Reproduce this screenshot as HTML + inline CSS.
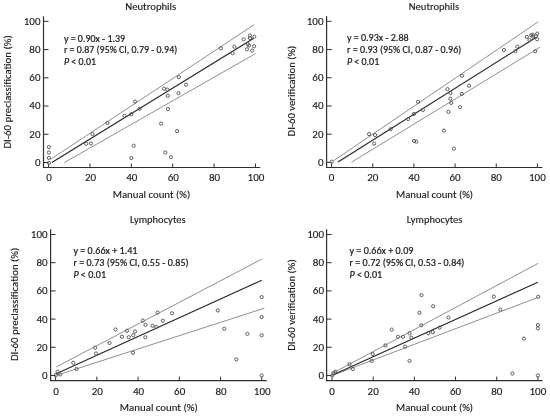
<!DOCTYPE html><html><head><meta charset="utf-8"><title>Scatter plots</title><style>html,body{margin:0;padding:0;background:#fff;width:550px;height:416px;overflow:hidden}svg{display:block;filter:blur(0.3px)}text{font-family:Carlito, "Liberation Sans", sans-serif;fill:#161616;stroke:#161616;stroke-width:0.12px}.eq{stroke-width:0.2px}</style></head><body>
<svg width="550" height="416" viewBox="0 0 550 416">
<g><path d="M43.5 16.3V167.5H260.2" fill="none" stroke="#303030" stroke-width="1.2"/><path d="M43.5 162.5h5M48.6 167.5v-4M43.5 134.27h5M89.97 167.5v-4M43.5 106.04h5M131.34 167.5v-4M43.5 77.81h5M172.71 167.5v-4M43.5 49.58h5M214.08 167.5v-4M43.5 21.35h5M255.45 167.5v-4" stroke="#303030" stroke-width="1"/><text x="40.5" y="165.9" font-size="11" text-anchor="end" textLength="5.58" lengthAdjust="spacingAndGlyphs">0</text><text x="49.1" y="181" font-size="11" text-anchor="middle" textLength="5.58" lengthAdjust="spacingAndGlyphs">0</text><text x="40.5" y="137.67" font-size="11" text-anchor="end" textLength="11.16" lengthAdjust="spacingAndGlyphs">20</text><text x="90.47" y="181" font-size="11" text-anchor="middle" textLength="11.16" lengthAdjust="spacingAndGlyphs">20</text><text x="40.5" y="109.44" font-size="11" text-anchor="end" textLength="11.16" lengthAdjust="spacingAndGlyphs">40</text><text x="131.84" y="181" font-size="11" text-anchor="middle" textLength="11.16" lengthAdjust="spacingAndGlyphs">40</text><text x="40.5" y="81.21" font-size="11" text-anchor="end" textLength="11.16" lengthAdjust="spacingAndGlyphs">60</text><text x="173.21" y="181" font-size="11" text-anchor="middle" textLength="11.16" lengthAdjust="spacingAndGlyphs">60</text><text x="40.5" y="52.98" font-size="11" text-anchor="end" textLength="11.16" lengthAdjust="spacingAndGlyphs">80</text><text x="214.58" y="181" font-size="11" text-anchor="middle" textLength="11.16" lengthAdjust="spacingAndGlyphs">80</text><text x="40.5" y="24.75" font-size="11" text-anchor="end" textLength="16.74" lengthAdjust="spacingAndGlyphs">100</text><text x="255.95" y="181" font-size="11" text-anchor="middle" textLength="16.74" lengthAdjust="spacingAndGlyphs">100</text><text x="125.3" y="9.5" font-size="10.5" textLength="50.9" lengthAdjust="spacingAndGlyphs">Neutrophils</text><text x="63.9" y="41.5" class="eq" font-size="10.3" textLength="61.2" lengthAdjust="spacingAndGlyphs">y = 0.90x - 1.39</text><text x="63.9" y="52.9" class="eq" font-size="10.3" textLength="113.3" lengthAdjust="spacingAndGlyphs">r = 0.87 (95% CI, 0.79 - 0.94)</text><text x="63.9" y="64.8" class="eq" font-size="10.3" textLength="32.1" lengthAdjust="spacingAndGlyphs"><tspan font-style="italic">P</tspan> &lt; 0.01</text><text x="112.7" y="197.9" font-size="10.8" textLength="77.5" lengthAdjust="spacingAndGlyphs">Manual count (%)</text><text transform="translate(10.8 148.6) rotate(-90)" x="0" y="0" font-size="10.8" textLength="113.3" lengthAdjust="spacingAndGlyphs">DI-60 preclassification (%)</text><line x1="50.7" y1="159.3" x2="254.2" y2="24.6" stroke="#8e8e8e" stroke-width="1.0"/><line x1="64.3" y1="162.6" x2="255.5" y2="53.6" stroke="#8e8e8e" stroke-width="1.0"/><line x1="51.8" y1="162.5" x2="253.8" y2="38.2" stroke="#262626" stroke-width="1.15"/><g fill="none" stroke="#555" stroke-width="0.95"><circle cx="48.9" cy="147.1" r="1.6"/><circle cx="48.9" cy="152.5" r="1.6"/><circle cx="48.9" cy="157.9" r="1.6"/><circle cx="48.95" cy="162.8" r="1.6"/><circle cx="86.25" cy="143.75" r="1.6"/><circle cx="91" cy="143.5" r="1.6"/><circle cx="92.5" cy="134" r="1.6"/><circle cx="107.5" cy="123" r="1.6"/><circle cx="124.5" cy="115.75" r="1.6"/><circle cx="131.25" cy="114.25" r="1.6"/><circle cx="135" cy="101.6" r="1.6"/><circle cx="139.5" cy="108.8" r="1.6"/><circle cx="133.75" cy="145.75" r="1.6"/><circle cx="131.25" cy="158" r="1.6"/><circle cx="178.8" cy="77.2" r="1.6"/><circle cx="186" cy="84.7" r="1.6"/><circle cx="164.1" cy="88.7" r="1.6"/><circle cx="167.2" cy="89.6" r="1.6"/><circle cx="167.8" cy="95.8" r="1.6"/><circle cx="178.5" cy="93.1" r="1.6"/><circle cx="167.9" cy="109" r="1.6"/><circle cx="161.1" cy="123.6" r="1.6"/><circle cx="177.1" cy="131.1" r="1.6"/><circle cx="165.3" cy="152.4" r="1.6"/><circle cx="170.9" cy="157.2" r="1.6"/><circle cx="220.9" cy="48.3" r="1.6"/><circle cx="234.4" cy="46.7" r="1.6"/><circle cx="232.6" cy="53.2" r="1.6"/><circle cx="243.6" cy="39.3" r="1.6"/><circle cx="249.9" cy="35.5" r="1.6"/><circle cx="250" cy="38.1" r="1.6"/><circle cx="254.3" cy="36.7" r="1.6"/><circle cx="247.7" cy="44.1" r="1.6"/><circle cx="249" cy="45.5" r="1.6"/><circle cx="246.9" cy="49.3" r="1.6"/><circle cx="254.1" cy="46.3" r="1.6"/><circle cx="252.2" cy="50.6" r="1.6"/></g></g>
<g><path d="M326.6 16.3V167.5H542.5" fill="none" stroke="#303030" stroke-width="1.2"/><path d="M326.6 162.4h5M331.6 167.5v-4M326.6 134.18h5M372.76 167.5v-4M326.6 105.96h5M413.92 167.5v-4M326.6 77.74h5M455.08 167.5v-4M326.6 49.52h5M496.24 167.5v-4M326.6 21.3h5M537.4 167.5v-4" stroke="#303030" stroke-width="1"/><text x="323.5" y="165.8" font-size="11" text-anchor="end" textLength="5.58" lengthAdjust="spacingAndGlyphs">0</text><text x="331.6" y="181" font-size="11" text-anchor="middle" textLength="5.58" lengthAdjust="spacingAndGlyphs">0</text><text x="323.5" y="137.58" font-size="11" text-anchor="end" textLength="11.16" lengthAdjust="spacingAndGlyphs">20</text><text x="372.76" y="181" font-size="11" text-anchor="middle" textLength="11.16" lengthAdjust="spacingAndGlyphs">20</text><text x="323.5" y="109.36" font-size="11" text-anchor="end" textLength="11.16" lengthAdjust="spacingAndGlyphs">40</text><text x="413.92" y="181" font-size="11" text-anchor="middle" textLength="11.16" lengthAdjust="spacingAndGlyphs">40</text><text x="323.5" y="81.14" font-size="11" text-anchor="end" textLength="11.16" lengthAdjust="spacingAndGlyphs">60</text><text x="455.08" y="181" font-size="11" text-anchor="middle" textLength="11.16" lengthAdjust="spacingAndGlyphs">60</text><text x="323.5" y="52.92" font-size="11" text-anchor="end" textLength="11.16" lengthAdjust="spacingAndGlyphs">80</text><text x="496.24" y="181" font-size="11" text-anchor="middle" textLength="11.16" lengthAdjust="spacingAndGlyphs">80</text><text x="323.5" y="24.7" font-size="11" text-anchor="end" textLength="16.74" lengthAdjust="spacingAndGlyphs">100</text><text x="537.4" y="181" font-size="11" text-anchor="middle" textLength="16.74" lengthAdjust="spacingAndGlyphs">100</text><text x="408.8" y="9.5" font-size="10.5" textLength="50.3" lengthAdjust="spacingAndGlyphs">Neutrophils</text><text x="346.9" y="41.2" class="eq" font-size="10.3" textLength="61.7" lengthAdjust="spacingAndGlyphs">y = 0.93x - 2.88</text><text x="346.9" y="52.9" class="eq" font-size="10.3" textLength="114.4" lengthAdjust="spacingAndGlyphs">r = 0.93 (95% CI, 0.87 - 0.96)</text><text x="346.9" y="64.6" class="eq" font-size="10.3" textLength="32.3" lengthAdjust="spacingAndGlyphs"><tspan font-style="italic">P</tspan> &lt; 0.01</text><text x="396" y="197.9" font-size="10.8" textLength="77.1" lengthAdjust="spacingAndGlyphs">Manual count (%)</text><text transform="translate(294.5 136.4) rotate(-90)" x="0" y="0" font-size="10.8" textLength="90.7" lengthAdjust="spacingAndGlyphs">DI-60 verification (%)</text><line x1="333.4" y1="160.9" x2="538.2" y2="21.8" stroke="#8e8e8e" stroke-width="1.0"/><line x1="351.5" y1="162.2" x2="540" y2="47.2" stroke="#8e8e8e" stroke-width="1.0"/><line x1="338" y1="162.1" x2="536.7" y2="36.9" stroke="#262626" stroke-width="1.15"/><g fill="none" stroke="#555" stroke-width="0.95"><circle cx="331.7" cy="161.7" r="1.6"/><circle cx="369.1" cy="134.1" r="1.6"/><circle cx="375.1" cy="135.1" r="1.6"/><circle cx="374.1" cy="143.6" r="1.6"/><circle cx="390.7" cy="129.1" r="1.6"/><circle cx="460.1" cy="107.2" r="1.6"/><circle cx="448.4" cy="111.8" r="1.6"/><circle cx="443.9" cy="130.6" r="1.6"/><circle cx="414" cy="140.9" r="1.6"/><circle cx="416.3" cy="141.6" r="1.6"/><circle cx="453.9" cy="148.7" r="1.6"/><circle cx="526.8" cy="36.9" r="1.6"/><circle cx="531.1" cy="35.2" r="1.6"/><circle cx="532.7" cy="34.7" r="1.6"/><circle cx="537.2" cy="33.6" r="1.6"/><circle cx="536" cy="36.2" r="1.6"/><circle cx="537.2" cy="39.3" r="1.6"/><circle cx="529.5" cy="40.1" r="1.6"/><circle cx="533.1" cy="36.5" r="1.6"/><circle cx="503.9" cy="50" r="1.6"/><circle cx="517.3" cy="46.7" r="1.6"/><circle cx="515.5" cy="51.2" r="1.6"/><circle cx="535.2" cy="51.2" r="1.6"/><circle cx="462" cy="75.7" r="1.6"/><circle cx="447.5" cy="89.1" r="1.6"/><circle cx="450.5" cy="93" r="1.6"/><circle cx="469" cy="85.7" r="1.6"/><circle cx="461.8" cy="93.9" r="1.6"/><circle cx="450.3" cy="98.7" r="1.6"/><circle cx="451.2" cy="102.9" r="1.6"/><circle cx="418.1" cy="101.9" r="1.6"/><circle cx="422.9" cy="109.9" r="1.6"/><circle cx="413.9" cy="114" r="1.6"/><circle cx="408.2" cy="119.1" r="1.6"/></g></g>
<g><path d="M50.6 229.3V380.6H266.7" fill="none" stroke="#303030" stroke-width="1.2"/><path d="M50.6 375.5h5M55.6 380.6v-4M50.6 347.3h5M96.84 380.6v-4M50.6 319.1h5M138.08 380.6v-4M50.6 290.9h5M179.32 380.6v-4M50.6 262.7h5M220.56 380.6v-4M50.6 234.5h5M261.8 380.6v-4" stroke="#303030" stroke-width="1"/><text x="47.6" y="378.9" font-size="11" text-anchor="end" textLength="5.58" lengthAdjust="spacingAndGlyphs">0</text><text x="56" y="394.8" font-size="11" text-anchor="middle" textLength="5.58" lengthAdjust="spacingAndGlyphs">0</text><text x="47.6" y="350.7" font-size="11" text-anchor="end" textLength="11.16" lengthAdjust="spacingAndGlyphs">20</text><text x="97.24" y="394.8" font-size="11" text-anchor="middle" textLength="11.16" lengthAdjust="spacingAndGlyphs">20</text><text x="47.6" y="322.5" font-size="11" text-anchor="end" textLength="11.16" lengthAdjust="spacingAndGlyphs">40</text><text x="138.48" y="394.8" font-size="11" text-anchor="middle" textLength="11.16" lengthAdjust="spacingAndGlyphs">40</text><text x="47.6" y="294.3" font-size="11" text-anchor="end" textLength="11.16" lengthAdjust="spacingAndGlyphs">60</text><text x="179.72" y="394.8" font-size="11" text-anchor="middle" textLength="11.16" lengthAdjust="spacingAndGlyphs">60</text><text x="47.6" y="266.1" font-size="11" text-anchor="end" textLength="11.16" lengthAdjust="spacingAndGlyphs">80</text><text x="220.96" y="394.8" font-size="11" text-anchor="middle" textLength="11.16" lengthAdjust="spacingAndGlyphs">80</text><text x="47.6" y="237.9" font-size="11" text-anchor="end" textLength="16.74" lengthAdjust="spacingAndGlyphs">100</text><text x="262.2" y="394.8" font-size="11" text-anchor="middle" textLength="16.74" lengthAdjust="spacingAndGlyphs">100</text><text x="129.9" y="222.7" font-size="10.5" textLength="55.8" lengthAdjust="spacingAndGlyphs">Lymphocytes</text><text x="73.4" y="254.3" class="eq" font-size="10.3" textLength="64.1" lengthAdjust="spacingAndGlyphs">y = 0.66x + 1.41</text><text x="73.4" y="266" class="eq" font-size="10.3" textLength="115.2" lengthAdjust="spacingAndGlyphs">r = 0.73 (95% CI, 0.55 - 0.85)</text><text x="73.4" y="277.7" class="eq" font-size="10.3" textLength="32.6" lengthAdjust="spacingAndGlyphs"><tspan font-style="italic">P</tspan> &lt; 0.01</text><text x="119.8" y="410.9" font-size="10.8" textLength="78" lengthAdjust="spacingAndGlyphs">Manual count (%)</text><text transform="translate(17.9 361.1) rotate(-90)" x="0" y="0" font-size="10.8" textLength="113.4" lengthAdjust="spacingAndGlyphs">DI-60 preclassification (%)</text><line x1="56.3" y1="366.9" x2="261.8" y2="259.1" stroke="#8e8e8e" stroke-width="1.0"/><line x1="56.5" y1="375.3" x2="264.4" y2="308.2" stroke="#8e8e8e" stroke-width="1.0"/><line x1="55.7" y1="374.1" x2="261.7" y2="280.3" stroke="#262626" stroke-width="1.15"/><g fill="none" stroke="#555" stroke-width="0.95"><circle cx="55.7" cy="375.2" r="1.6"/><circle cx="57.6" cy="371.6" r="1.6"/><circle cx="60.1" cy="374.4" r="1.6"/><circle cx="73.25" cy="362.75" r="1.6"/><circle cx="76.5" cy="369" r="1.6"/><circle cx="95.25" cy="347.75" r="1.6"/><circle cx="96" cy="353.5" r="1.6"/><circle cx="109.5" cy="343" r="1.6"/><circle cx="115.5" cy="329.5" r="1.6"/><circle cx="122" cy="336.75" r="1.6"/><circle cx="127" cy="330.75" r="1.6"/><circle cx="128.75" cy="337.25" r="1.6"/><circle cx="133.25" cy="335.25" r="1.6"/><circle cx="135" cy="331.5" r="1.6"/><circle cx="133" cy="352.75" r="1.6"/><circle cx="261.7" cy="317" r="1.6"/><circle cx="224.3" cy="328.8" r="1.6"/><circle cx="247.4" cy="333.8" r="1.6"/><circle cx="261.7" cy="335.3" r="1.6"/><circle cx="236.3" cy="359.4" r="1.6"/><circle cx="261.7" cy="375.5" r="1.6"/><circle cx="217.8" cy="310.4" r="1.6"/><circle cx="261.7" cy="297.1" r="1.6"/><circle cx="142.8" cy="320.5" r="1.6"/><circle cx="145.5" cy="324.8" r="1.6"/><circle cx="145.3" cy="337.3" r="1.6"/><circle cx="152.6" cy="325.8" r="1.6"/><circle cx="156.3" cy="327" r="1.6"/><circle cx="162.8" cy="320.8" r="1.6"/><circle cx="172.1" cy="313.3" r="1.6"/><circle cx="157.6" cy="312.5" r="1.6"/></g></g>
<g><path d="M326.6 229.3V380.6H542.5" fill="none" stroke="#303030" stroke-width="1.2"/><path d="M326.6 375.5h5M332 380.6v-4M326.6 347.3h5M373.18 380.6v-4M326.6 319.1h5M414.36 380.6v-4M326.6 290.9h5M455.54 380.6v-4M326.6 262.7h5M496.72 380.6v-4M326.6 234.5h5M537.9 380.6v-4" stroke="#303030" stroke-width="1"/><text x="324" y="378.9" font-size="11" text-anchor="end" textLength="5.58" lengthAdjust="spacingAndGlyphs">0</text><text x="332" y="394.8" font-size="11" text-anchor="middle" textLength="5.58" lengthAdjust="spacingAndGlyphs">0</text><text x="324" y="350.7" font-size="11" text-anchor="end" textLength="11.16" lengthAdjust="spacingAndGlyphs">20</text><text x="373.18" y="394.8" font-size="11" text-anchor="middle" textLength="11.16" lengthAdjust="spacingAndGlyphs">20</text><text x="324" y="322.5" font-size="11" text-anchor="end" textLength="11.16" lengthAdjust="spacingAndGlyphs">40</text><text x="414.36" y="394.8" font-size="11" text-anchor="middle" textLength="11.16" lengthAdjust="spacingAndGlyphs">40</text><text x="324" y="294.3" font-size="11" text-anchor="end" textLength="11.16" lengthAdjust="spacingAndGlyphs">60</text><text x="455.54" y="394.8" font-size="11" text-anchor="middle" textLength="11.16" lengthAdjust="spacingAndGlyphs">60</text><text x="324" y="266.1" font-size="11" text-anchor="end" textLength="11.16" lengthAdjust="spacingAndGlyphs">80</text><text x="496.72" y="394.8" font-size="11" text-anchor="middle" textLength="11.16" lengthAdjust="spacingAndGlyphs">80</text><text x="324" y="237.9" font-size="11" text-anchor="end" textLength="16.74" lengthAdjust="spacingAndGlyphs">100</text><text x="537.9" y="394.8" font-size="11" text-anchor="middle" textLength="16.74" lengthAdjust="spacingAndGlyphs">100</text><text x="406.8" y="222.7" font-size="10.5" textLength="55.6" lengthAdjust="spacingAndGlyphs">Lymphocytes</text><text x="349.5" y="254.3" class="eq" font-size="10.3" textLength="63.9" lengthAdjust="spacingAndGlyphs">y = 0.66x + 0.09</text><text x="349.5" y="266" class="eq" font-size="10.3" textLength="114.9" lengthAdjust="spacingAndGlyphs">r = 0.72 (95% CI, 0.53 - 0.84)</text><text x="349.5" y="277.7" class="eq" font-size="10.3" textLength="32.6" lengthAdjust="spacingAndGlyphs"><tspan font-style="italic">P</tspan> &lt; 0.01</text><text x="396" y="410.9" font-size="10.8" textLength="77.1" lengthAdjust="spacingAndGlyphs">Manual count (%)</text><text transform="translate(294.5 350.8) rotate(-90)" x="0" y="0" font-size="10.8" textLength="91.5" lengthAdjust="spacingAndGlyphs">DI-60 verification (%)</text><line x1="332.5" y1="373.3" x2="538.2" y2="263.3" stroke="#8e8e8e" stroke-width="1.0"/><line x1="333" y1="375.2" x2="537.5" y2="297.6" stroke="#8e8e8e" stroke-width="1.0"/><line x1="332.2" y1="375.3" x2="537.9" y2="282.2" stroke="#262626" stroke-width="1.15"/><g fill="none" stroke="#555" stroke-width="0.95"><circle cx="332.2" cy="375.5" r="1.6"/><circle cx="333.5" cy="373" r="1.6"/><circle cx="335.2" cy="371.7" r="1.6"/><circle cx="349.5" cy="364.2" r="1.6"/><circle cx="352.8" cy="369" r="1.6"/><circle cx="372.8" cy="354.1" r="1.6"/><circle cx="371.6" cy="360.9" r="1.6"/><circle cx="385.4" cy="345.4" r="1.6"/><circle cx="391.7" cy="329.6" r="1.6"/><circle cx="397.9" cy="336.8" r="1.6"/><circle cx="403" cy="336.8" r="1.6"/><circle cx="405" cy="346.6" r="1.6"/><circle cx="409.5" cy="333.3" r="1.6"/><circle cx="409.5" cy="360.9" r="1.6"/><circle cx="411.2" cy="337.6" r="1.6"/><circle cx="419.5" cy="312.8" r="1.6"/><circle cx="421.3" cy="325.3" r="1.6"/><circle cx="428.3" cy="333.3" r="1.6"/><circle cx="432.8" cy="332.1" r="1.6"/><circle cx="439.6" cy="327.6" r="1.6"/><circle cx="448.4" cy="317.5" r="1.6"/><circle cx="537.9" cy="325" r="1.6"/><circle cx="537.9" cy="328.3" r="1.6"/><circle cx="523.9" cy="338.6" r="1.6"/><circle cx="512.4" cy="373.5" r="1.6"/><circle cx="537.9" cy="375.5" r="1.6"/><circle cx="538.2" cy="296.8" r="1.6"/><circle cx="493.8" cy="296.6" r="1.6"/><circle cx="421.5" cy="295.1" r="1.6"/><circle cx="433.1" cy="306.3" r="1.6"/><circle cx="500.3" cy="309.6" r="1.6"/></g></g>
</svg></body></html>
